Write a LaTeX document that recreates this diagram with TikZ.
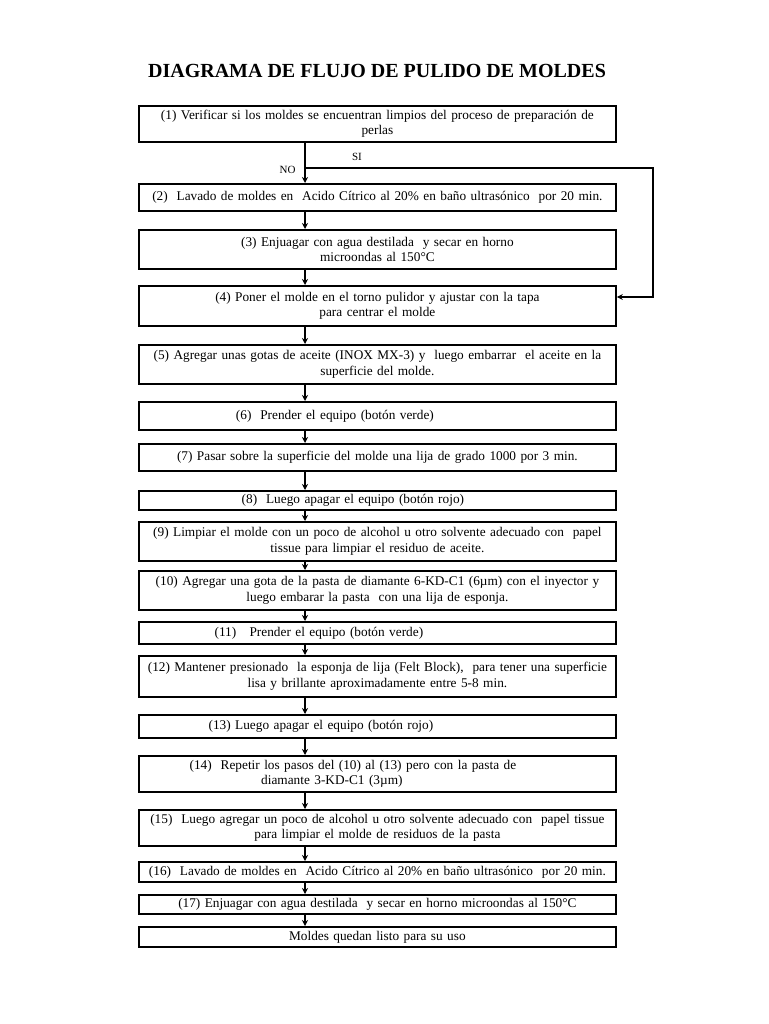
\documentclass[tikz,border=0pt]{standalone}
\usepackage{fontspec}
\setmainfont{Liberation Serif}
\usetikzlibrary{positioning, arrows.meta}

\begin{document}
\begin{tikzpicture}[
        x=1pt, y=-1pt,
        font=\fontsize{13.3}{15.5}\selectfont,
        % Step box: plain rectangle, wide and thin-lined
        paso/.style={
            rectangle, draw=black, line width=1.8pt,
            anchor=north west, inner sep=0pt,
            minimum width=477pt, text width=474pt, align=center
        },
        % Arrow between steps
        flecha/.style={
            draw=black, line width=1.7pt, -{Stealth[length=6pt, width=6pt]}
        },
        % NO / SI labels
        rama/.style={font=\fontsize{11}{13}\selectfont}
    ]
        \useasboundingbox (0,0) rectangle (768,1024);

        % Title
        \node[font=\fontsize{20}{24}\selectfont\bfseries] (titulo) at (377,71) {DIAGRAMA DE FLUJO DE PULIDO DE MOLDES};

        % Steps
        \node[paso, minimum height=36pt] (b1) at (138,105) {(1) Verificar si los moldes se encuentran limpios del proceso de preparación de\\ perlas};
        \node[paso, minimum height=27pt] (b2) at (138,183) {(2)\ \ Lavado de moldes en\ \ Acido Cítrico al 20\% en baño ultrasónico\ \ por 20 min.};
        \node[paso, minimum height=39pt] (b3) at (138,229) {(3) Enjuagar con agua destilada\ \ y secar en horno\\ microondas al 150°C};
        \node[paso, minimum height=40pt] (b4) at (138,285) {(4) Poner el molde en el torno pulidor y ajustar con la tapa\\ para centrar el molde};
        \node[paso, minimum height=39pt] (b5) at (138,344) {(5) Agregar unas gotas de aceite (INOX MX-3) y\ \ luego embarrar\ \ el aceite en la\\ superficie del molde.};
        \node[paso, minimum height=28pt] (b6) at (138,401) {(6)\ \ Prender el equipo (botón verde)\rule{85pt}{0pt}};
        \node[paso, minimum height=27pt] (b7) at (138,443) {(7) Pasar sobre la superficie del molde una lija de grado 1000 por 3 min.};
        \node[paso, minimum height=19pt] (b8) at (138,490) {(8)\ \ Luego apagar el equipo (botón rojo)\rule{49pt}{0pt}};
        \node[paso, minimum height=39pt] (b9) at (138,521) {(9) Limpiar el molde con un poco de alcohol u otro solvente adecuado con\ \ papel\\ tissue para limpiar el residuo de aceite.};
        \node[paso, minimum height=39pt] (b10) at (138,570) {(10) Agregar una gota de la pasta de diamante 6-KD-C1 (6µm) con el inyector y\\ luego embarar la pasta\ \ con una lija de esponja.};
        \node[paso, minimum height=22pt] (b11) at (138,621) {(11)\ \ \ Prender el equipo (botón verde)\rule{117pt}{0pt}};
        \node[paso, minimum height=41pt] (b12) at (138,655) {(12) Mantener presionado\ \ la esponja de lija (Felt Block),\ \ para tener una superficie\\ lisa y brillante aproximadamente entre 5-8 min.};
        \node[paso, minimum height=23pt] (b13) at (138,714) {(13) Luego apagar el equipo (botón rojo)\rule{113pt}{0pt}};
        \node[paso, minimum height=36pt] (b14) at (138,755) {(14)\ \ Repetir los pasos del (10) al (13) pero con la pasta de\rule{49pt}{0pt}\\ diamante 3-KD-C1 (3µm)\rule{91pt}{0pt}};
        \node[paso, minimum height=36pt] (b15) at (138,809) {(15)\ \ Luego agregar un poco de alcohol u otro solvente adecuado con\ \ papel tissue\\ para limpiar el molde de residuos de la pasta};
        \node[paso, minimum height=20pt] (b16) at (138,861) {(16)\ \ Lavado de moldes en\ \ Acido Cítrico al 20\% en baño ultrasónico\ \ por 20 min.};
        \node[paso, minimum height=19pt] (b17) at (138,894) {(17) Enjuagar con agua destilada\ \ y secar en horno microondas al 150°C};
        \node[paso, minimum height=20pt] (b18) at (138,926) {Moldes quedan listo para su uso};

        % Helper coordinates for the arrow column and the SI branch
        \coordinate (eje) at (305,0);
        \coordinate (rama) at (305,168);
        \coordinate (vuelta) at (653,297);

        % Connections
        \draw[flecha] (b1.south -| eje) -- (b2.north -| eje);
        \node[rama, anchor=east] (no) at (299,170) {NO};
        \node[rama] (si) at (357,157) {SI};
        \draw[flecha] (rama) -- (rama -| vuelta) -- (vuelta) -- (vuelta -| b4.east);
        \draw[flecha] (b2.south -| eje) -- (b3.north -| eje);
        \draw[flecha] (b3.south -| eje) -- (b4.north -| eje);
        \draw[flecha] (b4.south -| eje) -- (b5.north -| eje);
        \draw[flecha] (b5.south -| eje) -- (b6.north -| eje);
        \draw[flecha] (b6.south -| eje) -- (b7.north -| eje);
        \draw[flecha] (b7.south -| eje) -- (b8.north -| eje);
        \draw[flecha] (b8.south -| eje) -- (b9.north -| eje);
        \draw[flecha] (b9.south -| eje) -- (b10.north -| eje);
        \draw[flecha] (b10.south -| eje) -- (b11.north -| eje);
        \draw[flecha] (b11.south -| eje) -- (b12.north -| eje);
        \draw[flecha] (b12.south -| eje) -- (b13.north -| eje);
        \draw[flecha] (b13.south -| eje) -- (b14.north -| eje);
        \draw[flecha] (b14.south -| eje) -- (b15.north -| eje);
        \draw[flecha] (b15.south -| eje) -- (b16.north -| eje);
        \draw[flecha] (b16.south -| eje) -- (b17.north -| eje);
        \draw[flecha] (b17.south -| eje) -- (b18.north -| eje);

    \end{tikzpicture}
\end{document}
